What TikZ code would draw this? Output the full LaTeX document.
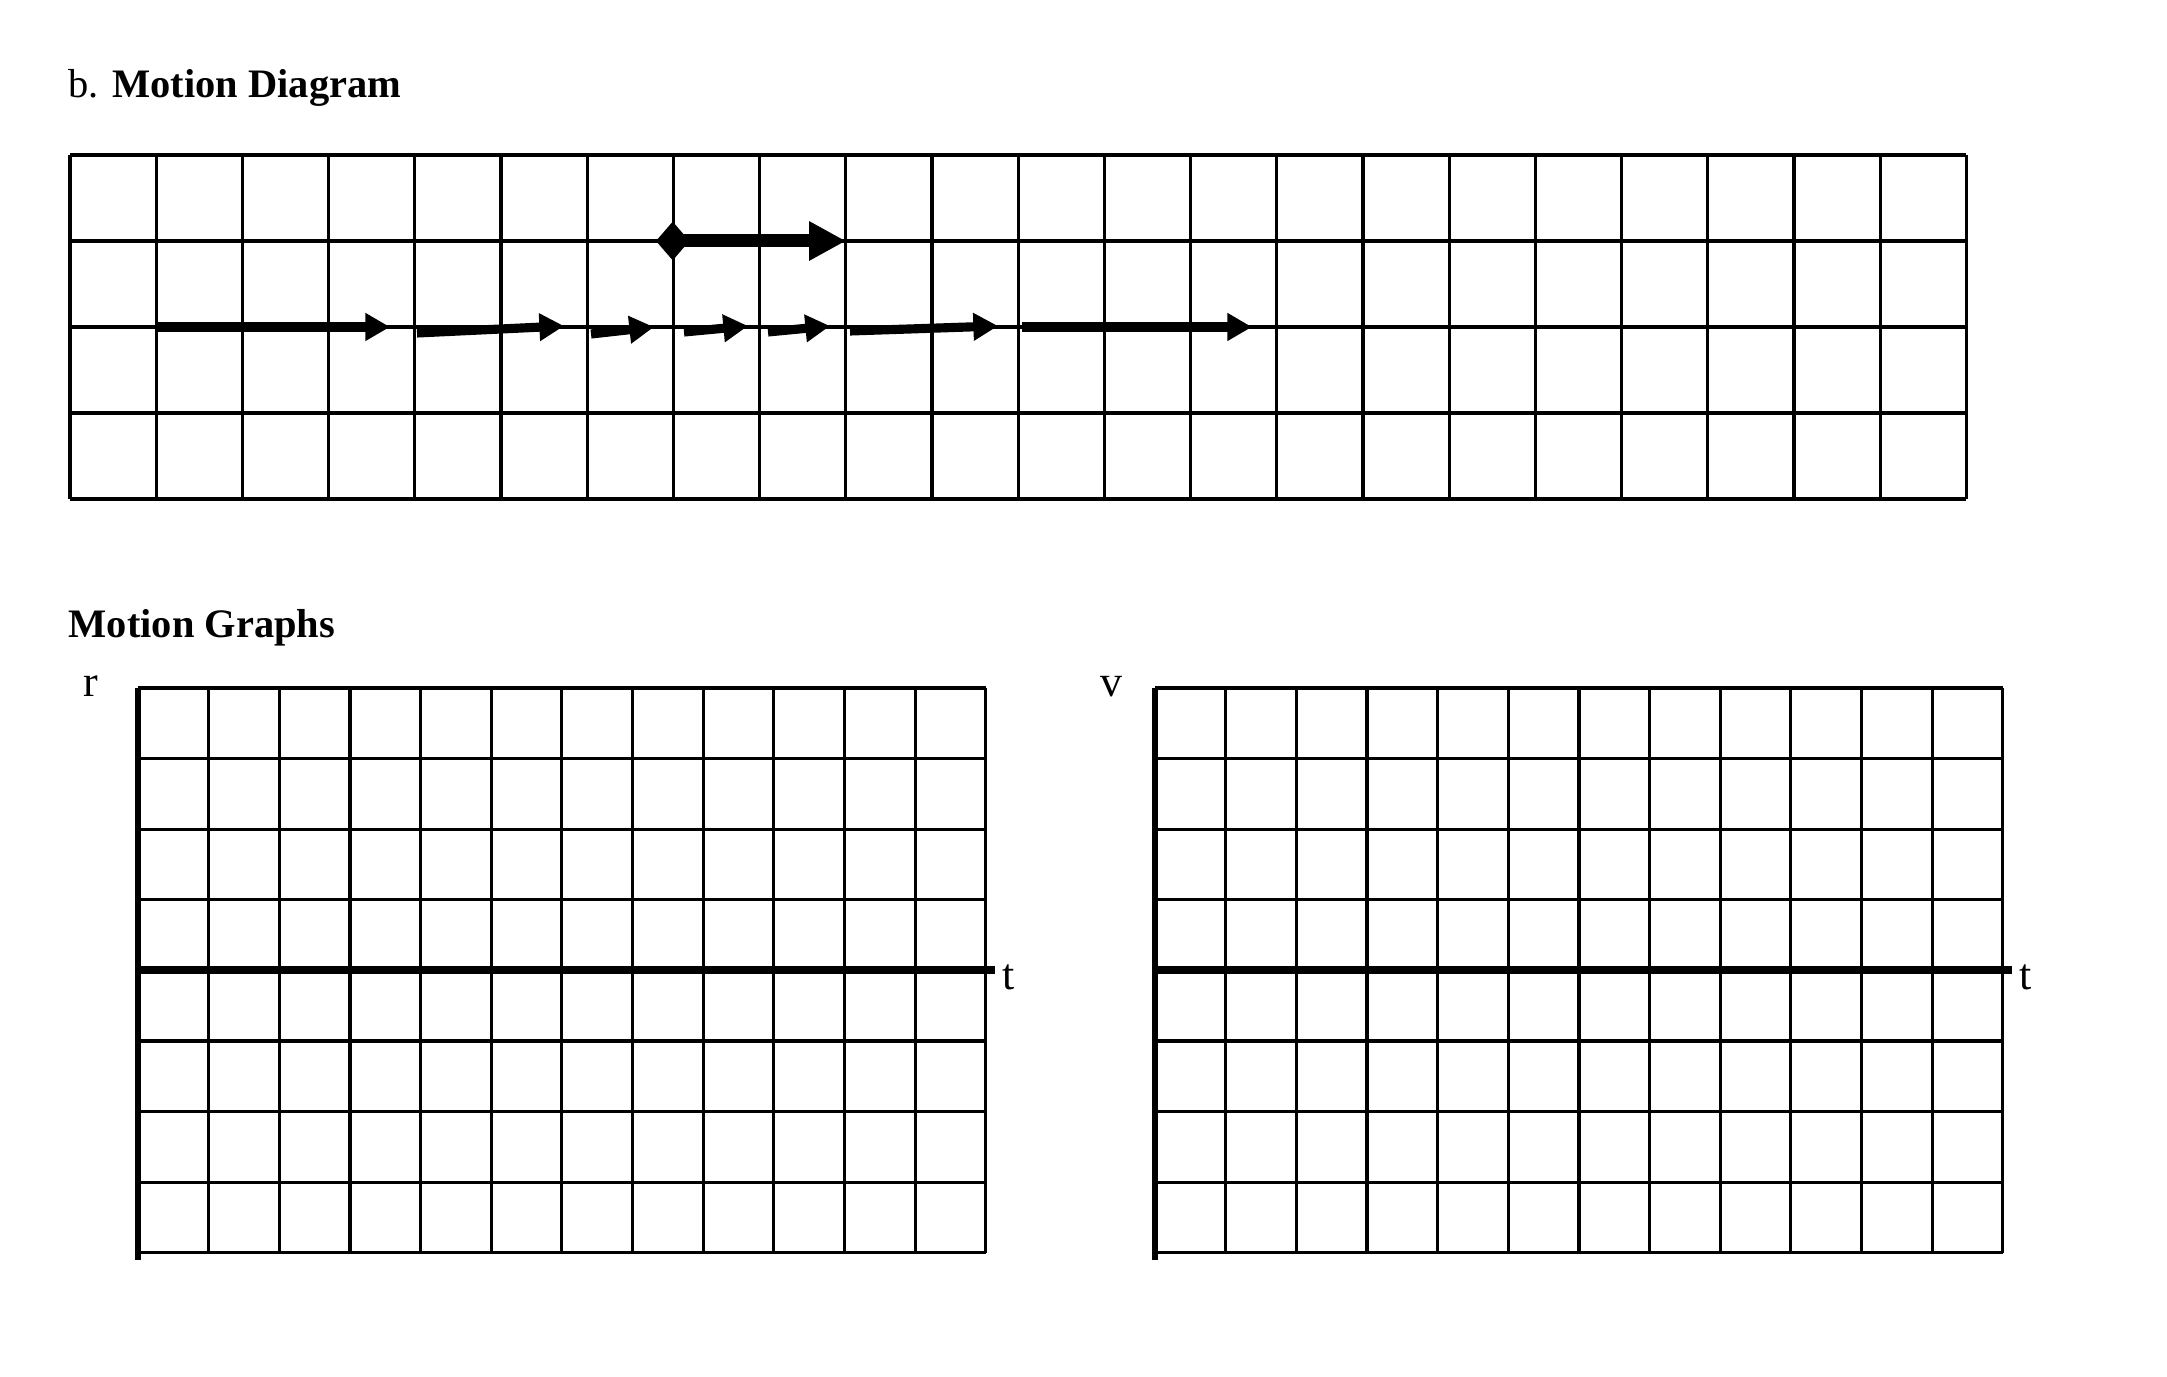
\documentclass[tikz,border=0pt]{standalone}
\usepackage{fontspec}
\setmainfont{Liberation Serif}
\usetikzlibrary{arrows.meta}

\tikzset{
	gridline/.style={line width=0.9pt},
	axisline/.style={line width=2pt},
	vecarrow/.style={line width=2.6pt, -{Triangle[length=7pt,width=7.5pt]}},
	accarrow/.style={line width=3.7pt, {Diamond[length=9.5pt,width=11pt]}-{Triangle[length=10.5pt,width=10.5pt]}},
	heading/.style={anchor=base west, inner sep=0pt, font=\fontsize{11.5}{13}\selectfont},
	axislabel/.style={anchor=base west, inner sep=0pt, font=\fontsize{12.5}{14}\selectfont},
}

\begin{document}
\begin{tikzpicture}[x=0.01cm, y=-0.01cm]
	\useasboundingbox (0,0) rectangle (2167,1377);

	% motion diagram
	\node[heading] (title) at (68,98) {b. \textbf{Motion Diagram}};
	\foreach \i in {0,...,22}
		\draw[gridline] ({70+86.2*\i},155) -- ({70+86.2*\i},499);
	\foreach \j in {0,...,4}
		\draw[gridline] (70,{155+86*\j}) -- (1966,{155+86*\j});

	\draw[accarrow] (656,241) -- (846,241);
	\foreach \xa/\ya/\xb/\yb in {158/327/390/327, 417/333/564/326, 591/334/654/327,
			684/332/748/326, 768/332/830/326, 850/331/998/326, 1022/327/1252/327}
		\draw[vecarrow] (\xa,\ya) -- (\xb,\yb);

	% motion graphs
	\node[heading] (graphs) at (68,638) {\textbf{Motion Graphs}};
	\foreach \left/\lab in {138/r, 1155/v} {
		\foreach \i in {0,...,12}
			\draw[gridline] ({\left+70.65*\i},688) -- ({\left+70.65*\i},1253);
		\foreach \j in {0,...,8}
			\draw[gridline] (\left,{688+70.6*\j}) -- ({\left+847.8},{688+70.6*\j});
		\draw[axisline, line width=1.7pt] (\left,688) -- (\left,1260);
		\draw[axisline] (\left,970) -- ({\left+857},970);
		\node[axislabel] at ({\left-55},{697}) {\lab};
		\node[axislabel] at ({\left+864},990) {t};
	}
\end{tikzpicture}
\end{document}
